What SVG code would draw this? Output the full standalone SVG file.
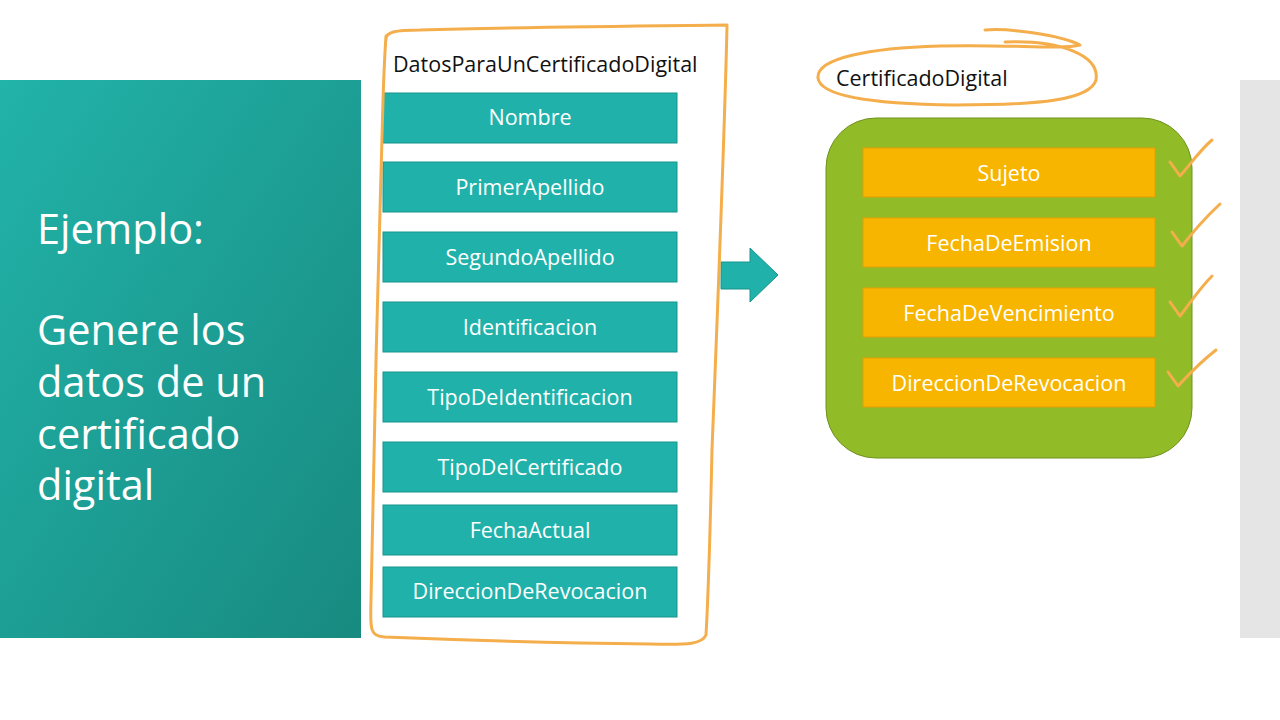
<svg xmlns="http://www.w3.org/2000/svg" width="1280" height="720" viewBox="0 0 1280 720">
<defs>
<linearGradient id="g" x1="0" y1="0" x2="1" y2="1"><stop offset="0" stop-color="#22b3a9"/><stop offset="1" stop-color="#188a80"/></linearGradient>
<style>
.t{fill:#20B2AA;stroke:#17948d;stroke-width:1}
.o{fill:#F8B500;stroke:#e39d00;stroke-width:1}
.wt{font-family:"Open Sans","Liberation Sans",sans-serif;font-size:21.5px;fill:#fff;text-anchor:middle}
.bt{font-family:"Open Sans","Liberation Sans",sans-serif;font-size:21.5px;fill:#111}
.big{font-family:"Open Sans","Liberation Sans",sans-serif;font-size:41.5px;fill:#fff}
.ink{fill:none;stroke:#F4AE4C;stroke-width:3;stroke-linecap:round;stroke-linejoin:round}
</style>
</defs>
<rect width="1280" height="720" fill="#fff"/>
<rect x="0" y="80" width="361" height="558" fill="url(#g)"/>
<rect x="1240" y="80" width="40" height="558" fill="#e5e5e5"/>
<text class="big" x="37" y="244">Ejemplo:</text>
<text class="big" x="37" y="345">Genere los</text>
<text class="big" x="37" y="397">datos de un</text>
<text class="big" x="37" y="449">certificado</text>
<text class="big" x="37" y="500">digital</text>
<text class="bt" x="393" y="72">DatosParaUnCertificadoDigital</text>
<g id="n1"><rect class="t" x="383" y="93" width="294" height="50"/><text class="wt" x="530" y="125">Nombre</text></g>
<g id="n2"><rect class="t" x="383" y="162" width="294" height="50"/><text class="wt" x="530" y="195">PrimerApellido</text></g>
<g id="n3"><rect class="t" x="383" y="232" width="294" height="50"/><text class="wt" x="530" y="265">SegundoApellido</text></g>
<g id="n4"><rect class="t" x="383" y="302" width="294" height="50"/><text class="wt" x="530" y="335">Identificacion</text></g>
<g id="n5"><rect class="t" x="383" y="372" width="294" height="50"/><text class="wt" x="530" y="405">TipoDeIdentificacion</text></g>
<g id="n6"><rect class="t" x="383" y="442" width="294" height="50"/><text class="wt" x="530" y="475">TipoDelCertificado</text></g>
<g id="n7"><rect class="t" x="383" y="505" width="294" height="50"/><text class="wt" x="530" y="538">FechaActual</text></g>
<g id="n8"><rect class="t" x="383" y="567" width="294" height="50"/><text class="wt" x="530" y="599">DireccionDeRevocacion</text></g>
<g id="arrow"><polygon points="721,262 750,262 750,248 778,275 750,302 750,289 721,289" fill="#20B2AA" stroke="#17948d"/></g>
<text class="bt" x="836" y="86">CertificadoDigital</text>
<g id="cert"><rect x="826" y="118" width="366" height="340" rx="50" fill="#92BC27" stroke="#6f9220"/></g>
<g id="o1"><rect class="o" x="863" y="148" width="292" height="49"/><text class="wt" x="1009" y="181">Sujeto</text></g>
<g id="o2"><rect class="o" x="863" y="218" width="292" height="49"/><text class="wt" x="1009" y="251">FechaDeEmision</text></g>
<g id="o3"><rect class="o" x="863" y="288" width="292" height="49"/><text class="wt" x="1009" y="321">FechaDeVencimiento</text></g>
<g id="o4"><rect class="o" x="863" y="358" width="292" height="49"/><text class="wt" x="1009" y="391">DireccionDeRevocacion</text></g>
<g id="ink">
<path class="ink" d="M386,40 C385,32 395,30 420,30 C520,27 640,26 727,25 C725,120 718,300 712,450 C710,540 708,600 706,635 C702,644 690,645 650,644 C560,643 460,640 385,637 C370,636 370,630 371,600 C374,450 378,250 383,100 C384,70 385,50 386,36"/>
<path class="ink" d="M1005,42 C1060,40 1100,55 1096,80 C1090,100 1040,105 955,105 C870,104 820,96 818,78 C816,58 870,48 940,46 C1010,44 1060,50 1080,45 C1060,35 1010,28 985,30"/>
<path class="ink" d="M1170,162 L1180,176 C1190,165 1200,150 1212,140"/>
<path class="ink" d="M1172,232 L1182,246 C1192,233 1205,218 1220,204"/>
<path class="ink" d="M1170,302 L1180,316 C1190,303 1200,288 1212,276"/>
<path class="ink" d="M1168,372 L1178,386 C1190,373 1203,360 1216,350"/>
</g>
</svg>
